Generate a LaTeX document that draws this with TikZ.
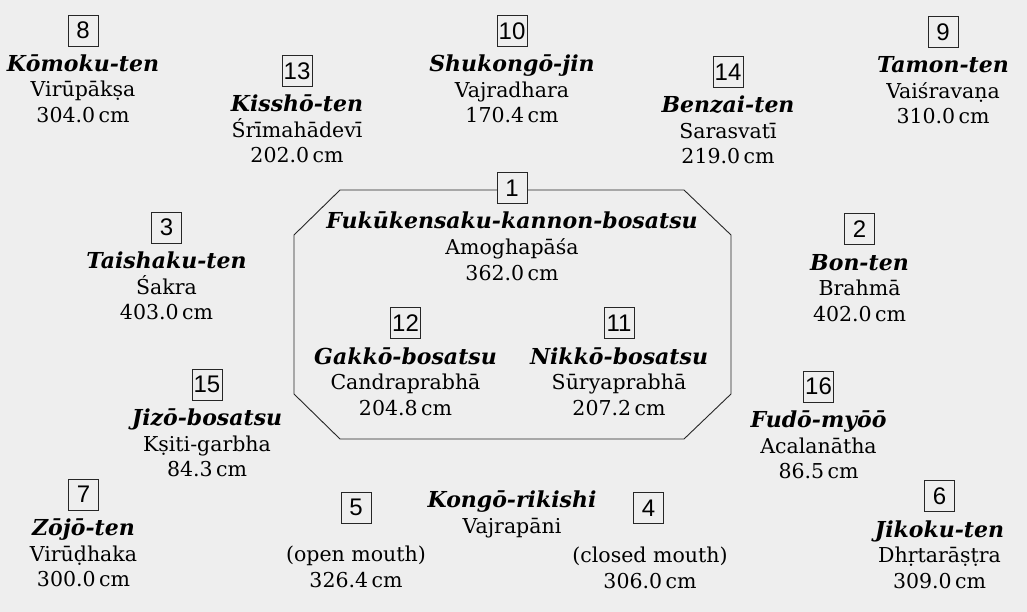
\documentclass[tikz,border=0pt]{standalone}
\usepackage{fontspec}
\setmainfont{DejaVu Serif}
\setsansfont{Liberation Sans}
\definecolor{bg}{RGB}{238,238,238}
\tikzset{
  numbox/.style={draw=black!85, line width=0.9pt, fill=bg, minimum width=30pt,
    minimum height=31pt, inner sep=0pt, font=\sffamily\fontsize{24}{24}\selectfont},
  jname/.style={anchor=base, inner sep=0pt, font=\bfseries\itshape\fontsize{22}{26}\selectfont},
  skname/.style={anchor=base, inner sep=0pt, font=\fontsize{20.5}{24}\selectfont},
  hall/.style={draw=black!85, line width=0.9pt},
}
\newcommand\cmu[1]{#1\,cm}
\newcommand\statue[7]{%
  \node[numbox] (#1-no) at (#2,#3) {#4};
  \node[jname] (#1-jp) at (#2,#3+41) {#5};
  \node[skname] (#1-sk) at (#2,#3+66.5) {#6};
  \node[skname] (#1-ht) at (#2,#3+92) {\cmu{#7}};
}
\begin{document}
\begin{tikzpicture}[x=1pt,y=-1pt]
\fill[bg] (0,0) rectangle (1027,612);
\useasboundingbox (0,0) rectangle (1027,612);
% hall outline
\coordinate (o1) at (340,190);
\coordinate (o2) at (684,190);
\coordinate (o3) at (731,235);
\coordinate (o4) at (731,394);
\coordinate (o5) at (684,439);
\coordinate (o6) at (340,439);
\coordinate (o7) at (294,394);
\coordinate (o8) at (294,235);
\draw[hall] (o1) -- (o2) -- (o3) -- (o4) -- (o5) -- (o6) -- (o7) -- (o8) -- cycle;
% statues
\statue{s8}{83}{30.5}{8}{Kōmoku-ten}{Virūpākṣa}{304.0}
\statue{s13}{297}{71}{13}{Kisshō-ten}{Śrīmahādevī}{202.0}
\statue{s10}{512}{31}{10}{Shukongō-jin}{Vajradhara}{170.4}
\statue{s14}{728}{72}{14}{Benzai-ten}{Sarasvatī}{219.0}
\statue{s9}{943}{32}{9}{Tamon-ten}{Vaiśravaṇa}{310.0}
\statue{s1}{512}{188}{1}{Fukūkensaku-kannon-bosatsu}{Amoghapāśa}{362.0}
\statue{s3}{166.5}{227.5}{3}{Taishaku-ten}{Śakra}{403.0}
\statue{s2}{859.5}{229}{2}{Bon-ten}{Brahmā}{402.0}
\statue{s12}{405.5}{323}{12}{Gakkō-bosatsu}{Candraprabhā}{204.8}
\statue{s11}{619}{323}{11}{Nikkō-bosatsu}{Sūryaprabhā}{207.2}
\statue{s15}{207}{384.5}{15}{Jizō-bosatsu}{Kṣiti-garbha}{84.3}
\statue{s16}{818.5}{386.5}{16}{Fudō-myōō}{Acalanātha}{86.5}
\statue{s7}{83.5}{494.5}{7}{Zōjō-ten}{Virūḍhaka}{300.0}
\statue{s6}{939.5}{496}{6}{Jikoku-ten}{Dhṛtarāṣṭra}{309.0}
% Kongo-rikishi pair
\node[jname] (kr-jp) at (512,507) {Kongō-rikishi};
\node[skname] (kr-sk) at (512,533) {Vajrapāni};
\node[numbox] (s5-no) at (356,507.5) {5};
\node[skname] (s5-sk) at (356,561) {(open mouth)};
\node[skname] (s5-ht) at (356,587) {\cmu{326.4}};
\node[numbox] (s4-no) at (648.5,508) {4};
\node[skname] (s4-sk) at (650,562) {(closed mouth)};
\node[skname] (s4-ht) at (650,588) {\cmu{306.0}};
\end{tikzpicture}
\end{document}
